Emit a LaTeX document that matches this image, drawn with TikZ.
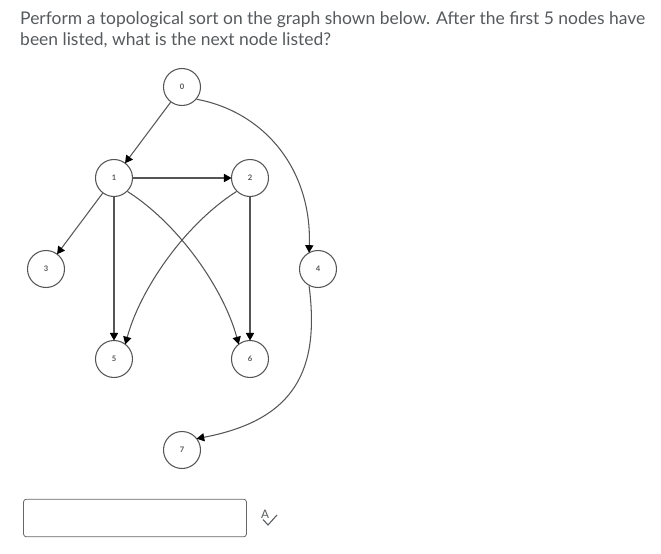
\documentclass[tikz,border=0pt]{standalone}
\usepackage{fontspec}
\setmainfont{Lato}
\usetikzlibrary{arrows.meta}
\definecolor{textgray}{HTML}{565A5C}
\definecolor{edgegray}{HTML}{555555}
\tikzset{
    vertex/.style={draw=edgegray,line width=0.9pt,circle,minimum size=1.11cm,inner sep=0pt,font=\fontsize{6.5}{6.5}\selectfont\bfseries,text=edgegray},
    edge/.style={draw=edgegray,line width=0.9pt,-{Triangle[length=6.5pt,width=7pt,black]},shorten >=-0.5pt},
    question/.style={anchor=west,text=textgray,font=\fontsize{14.9}{17}\selectfont,inner sep=0pt},
}
\begin{document}
\begin{tikzpicture}[x=0.03cm,y=-0.03cm]
    \useasboundingbox (0,0) rectangle (661,554);
    \node[question] (line1) at (20,20) {Perform a topological sort on the graph shown below. After the first 5 nodes have};
    \node[question] (line2) at (20,40) {been listed, what is the next node listed?};

    \node[vertex] (n0) at (182,87)  {0};
    \node[vertex] (n1) at (114,178) {1};
    \node[vertex] (n2) at (250,178) {2};
    \node[vertex] (n3) at (46,269)  {3};
    \node[vertex] (n4) at (318,269) {4};
    \node[vertex] (n5) at (114,359) {5};
    \node[vertex] (n6) at (250,359) {6};
    \node[vertex] (n7) at (182,450) {7};

    \draw[edge] (n0) -- (n1);
    \draw[edge] (n1) -- (n2);
    \draw[edge] (n1) -- (n3);
    \draw[edge] (n1) -- (n5);
    \draw[edge] (n2) -- (n6);
    \draw[edge] (n1.-45) .. controls (180,225) and (224,290) .. (n6.127);
    \draw[edge] (n2.-135) .. controls (184,225) and (140,290) .. (n5.53);
    \draw[edge] (n0.-40) .. controls (265,112) and (312,170) .. (n4.118);
    \draw[edge] (n4.-118) .. controls (320,370) and (295,420) .. (n7.37);

    \node[draw=gray!80!black,line width=0.7pt,rounded corners=2.5pt,minimum width=6.69cm,minimum height=1.13cm,inner sep=0pt] (answerbox) at (135,518) {};
    \node[text=textgray,font=\fontsize{10}{10}\selectfont,inner sep=0pt] (spell) at (265,514.5) {A};
    \draw[textgray,line width=0.9pt] (263,519.5) -- (268,525) -- (277,515);
\end{tikzpicture}
\end{document}
